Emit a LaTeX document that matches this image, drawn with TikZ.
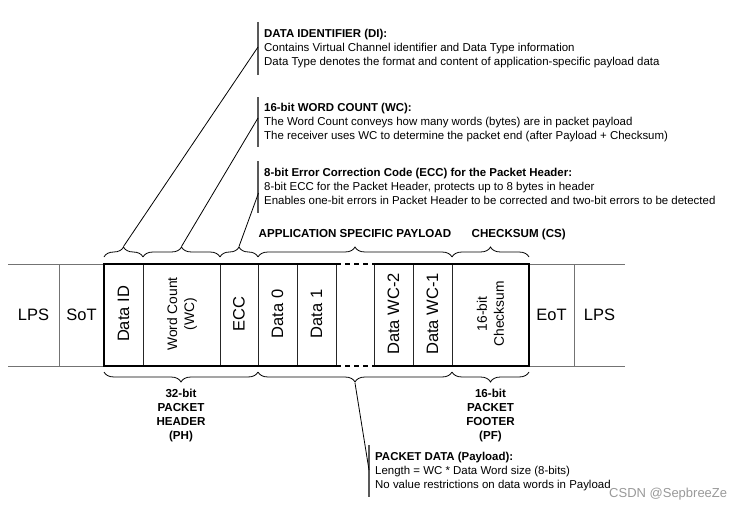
\documentclass[tikz,border=0pt]{standalone}
\usepackage{fontspec}
\setmainfont{Liberation Sans}
\usetikzlibrary{decorations.pathreplacing}
\begin{document}
\begin{tikzpicture}[x=1pt,y=-1pt,
  outerline/.style={line width=0.8pt, draw=black!55},
  frameline/.style={line width=1.9pt, draw=black},
  cellline/.style={line width=0.9pt, draw=black!85},
  gapline/.style={line width=1.9pt, draw=black, dash pattern=on 5pt off 4pt},
  brc/.style={decorate, decoration={brace, amplitude=10pt}, line width=0.8pt},
  big/.style={font=\fontsize{16.5}{18}\selectfont, inner sep=0pt},
  mid/.style={font=\fontsize{13.8}{17}\selectfont, align=center, inner sep=0pt},
  headtxt/.style={font=\fontsize{11.6}{14}\selectfont\bfseries, align=center, inner sep=0pt},
  desc/.style={font=\fontsize{11.45}{14}\selectfont, align=left, anchor=north west, inner sep=0pt},
  bar/.style={line width=1.3pt, draw=black!65},
  leader/.style={line width=0.8pt}]
\useasboundingbox (0,0) rectangle (747,511);

% outer link lines (LPS / SoT / EoT)
\draw[outerline] (8,264) -- (104,264) (8,366) -- (104,366);
\draw[outerline] (529,264) -- (625,264) (529,366) -- (625,366);
\draw[outerline] (59,264) -- (59,366) (574,264) -- (574,366);

% inner cell separators
\foreach \x in {143,220,258,297,336,374,413,452}
  \draw[cellline] (\x,264) -- (\x,366);

% packet frame
\draw[frameline] (336,264) -- (104,264) -- (104,366) -- (336,366);
\draw[frameline] (374,264) -- (529,264) -- (529,366) -- (374,366);
\draw[gapline] (336,264) -- (374,264) (336,366) -- (374,366);

% cell texts
\node[big] (lpsl) at (33.5,315) {LPS};
\node[big] (sot) at (81.5,315) {SoT};
\node[big, rotate=90] (di) at (123.5,314) {Data ID};
\node[mid, rotate=90] (wc) at (182,314) {Word Count\\(WC)};
\node[big, rotate=90] (ecc) at (239,314) {ECC};
\node[big, rotate=90] (d0) at (277.5,314) {Data 0};
\node[big, rotate=90] (d1) at (316.5,314) {Data 1};
\node[big, rotate=90] (dwc2) at (393.5,314) {Data WC-2};
\node[big, rotate=90] (dwc1) at (432.5,314) {Data WC-1};
\node[mid, rotate=90] (cs) at (490.5,314) {16-bit\\Checksum};
\node[big] (eot) at (551.5,315) {EoT};
\node[big] (lpsr) at (599.5,315) {LPS};

% top braces
\draw[brc] (104,257) -- (143,257);
\draw[brc] (143,257) -- (220,257);
\draw[brc] (220,257) -- (258,257);
\draw[brc] (258,257) -- (452,257);
\draw[brc] (452,257) -- (529,257);
\coordinate (tdi) at (123.5,246.5);
\coordinate (twc) at (181.5,246.5);
\coordinate (tecc) at (239,246.5);

% bottom braces
\draw[brc] (258,372) -- (104,372);
\draw[brc] (452,372) -- (258,372);
\draw[brc] (529,372) -- (452,372);
\coordinate (bpay) at (355,383);

% top headings
\node[headtxt, anchor=west] (asp) at (258.5,234) {APPLICATION SPECIFIC PAYLOAD};
\node[headtxt, anchor=west] (csh) at (471.5,234) {CHECKSUM (CS)};

% bottom headings
\node[headtxt, anchor=north] (ph) at (181,389) {32-bit\\PACKET\\HEADER\\(PH)};
\node[headtxt, anchor=north] (pf) at (490.5,389) {16-bit\\PACKET\\FOOTER\\(PF)};

% description bars
\draw[bar] (258,22) -- (258,75);
\draw[bar] (258,97) -- (258,147);
\draw[bar] (258,161) -- (258,213);
\draw[bar] (369,445) -- (369,497);
\coordinate (edi) at (258,47);
\coordinate (ewc) at (258,118);
\coordinate (eecc) at (258.5,193);
\coordinate (epay) at (369,470);

% leaders
\draw[leader] (tdi) -- (edi);
\draw[leader] (twc) -- (ewc);
\draw[leader] (tecc) -- (eecc);
\draw[leader] (bpay) -- (epay);

% descriptions
\node[desc] (ddi) at (264,29.5) {\textbf{DATA IDENTIFIER (DI):}\\Contains Virtual Channel identifier and Data Type information\\Data Type denotes the format and content of application-specific payload data};
\node[desc] (dwc) at (264,103.5) {\textbf{16-bit WORD COUNT (WC):}\\The Word Count conveys how many words (bytes) are in packet payload\\The receiver uses WC to determine the packet end (after Payload + Checksum)};
\node[desc] (decc) at (264,168.5) {\textbf{8-bit Error Correction Code (ECC) for the Packet Header:}\\8-bit ECC for the Packet Header, protects up to 8 bytes in header\\Enables one-bit errors in Packet Header to be corrected and two-bit errors to be detected};
\node[desc] (dpay) at (375,451.5) {\textbf{PACKET DATA (Payload):}\\Length = WC * Data Word size (8-bits)\\No value restrictions on data words in Payload};

% watermark
\node[font=\fontsize{13}{15}\selectfont, text=black!40, anchor=west, inner sep=0pt] (wm) at (609,494) {CSDN @SepbreeZe};
\end{tikzpicture}
\end{document}
